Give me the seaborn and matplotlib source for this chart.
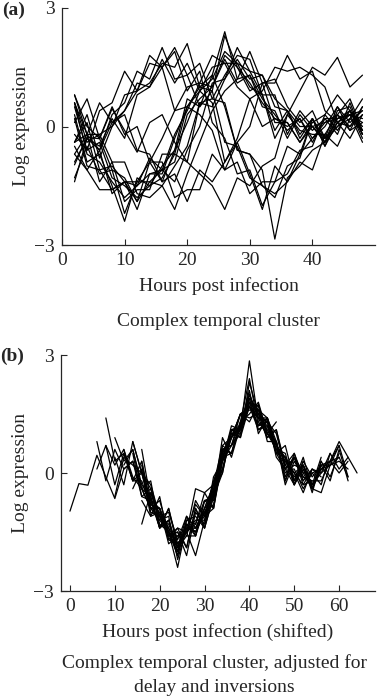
import numpy as np
import pandas as pd
import matplotlib
matplotlib.use('Agg')
import matplotlib.pyplot as plt
import seaborn as sns

# ============================================================
# DATA
# ============================================================

hours = [2, 4, 6, 8, 10, 12, 14, 16, 18, 20, 22, 24,
         26, 28, 30, 32, 34, 36, 38, 40, 42, 44, 46, 48]

# delay (hours) and inversion sign used for the adjusted panel
gene_delay = [-2, 4, 4, 6, 6, 8, 8, 8, 10, 10,
              12, 12, 12, 14, 14, 14, 14, 14, 14, 16]
gene_sign  = [1, 1, 1, -1, -1, -1, -1, -1, -1, 1,
              1, 1, 1, 1, 1, 1, 1, 1, 1, 1]

# expression profiles after adjustment (panel b orientation)
g01 = [-0.97, -0.27, -0.31, 0.45, -0.1, -0.65, 0.1, 0.3, -0.4, -0.9, -1.2, -1.5,
       -2.1, -1.3, -1.5, -1.0, -0.8, 0.3, 0.9, 1.5, 1.3, 1.75, 1.0, 1.3]
g02 = [0.8, -0.2, 0.6, 0.1, 0.3, -0.6, -0.7, -1.4, -1.2, -1.9, -1.1, -1.4,
       -0.9, -0.3, 0.7, 0.9, 1.5, 1.4, 1.5, 1.3, 1.0, 0.1, 0.4, -0.2]
g03 = [0.1, 0.7, -0.3, 0.5, -0.2, 0.0, -0.9, -0.9, -1.8, -1.6, -1.6, -0.7,
       -1.1, -0.4, 0.0, 1.1, 1.1, 1.8, 1.2, 1.4, 0.4, 0.1, -0.3, 0.3]
g04 = [0.7, 0.2, 0.6, -0.1, -0.4, -0.9, -1.1, -1.6, -1.5, -2.1, -1.0, -1.3,
       -0.5, 0.6, 0.7, 1.1, 2.85, 1.3, 1.0, 0.6, 0.4, 0.0, -0.3, -0.2]
g05 = [1.4, 0.3, 0.5, -0.2, 0.3, -0.8, -1.0, -1.5, -2.0, -1.3, -1.6, -0.7,
       -0.6, 0.6, 0.7, 1.5, 1.7, 1.4, 0.9, 1.1, 0.2, 0.5, -0.2, 0.1]
g06 = [-0.6, 0.4, 0.2, 0.0, -0.8, -0.9, -1.6, -1.5, -1.9, -0.9, -1.4, -0.1,
       0.3, 1.2, 1.1, 2.0, 1.4, 1.2, 0.6, 0.5, -0.3, 0.1, -0.4, 0.3]
g07 = [0.9, 0.3, 0.6, -0.3, -0.6, -1.4, -1.2, -2.0, -1.2, -1.3, -0.5, -0.9,
       0.4, 0.5, 1.3, 1.5, 1.8, 1.0, 0.8, -0.2, 0.5, -0.1, -0.3, 0.4]
g08 = [0.4, -0.3, 0.8, 0.0, -0.4, -1.1, -1.0, -1.7, -1.1, -1.6, -0.9, -0.6,
       0.9, 0.4, 1.2, 2.1, 1.0, 1.4, 0.7, 0.3, 0.0, -0.5, 0.1, -0.1]
g09 = [0.2, 0.6, -0.4, -0.6, -1.4, -0.9, -1.8, -1.5, -0.4, -0.5, -0.3, 0.1,
       1.1, 0.9, 1.7, 1.4, 1.4, 0.5, 0.7, -0.2, 0.4, -0.4, -0.5, 0.2]
g10 = [0.6, -0.2, -0.2, -0.9, -0.9, -1.7, -1.8, -1.5, -2.1, -1.2, -0.4, 0.4,
       0.9, 1.2, 1.9, 1.1, 1.2, 0.5, 0.1, 0.4, -0.3, 0.1, 0.0, 0.5]
g11 = [0.8, 0.0, -0.3, -1.1, -1.3, -1.9, -1.4, -1.5, -1.0, -0.5, 0.6, 0.7,
       1.3, 1.8, 1.7, 0.8, 0.8, -0.2, 0.4, 0.0, -0.4, 0.2, 0.3, 0.4]
g12 = [-0.4, 0.1, -1.1, -1.0, -1.4, -2.1, -1.2, -1.1, -1.4, -0.6, 0.0, 1.1,
       1.2, 1.7, 1.2, 1.3, 0.7, 0.4, -0.3, 0.2, -0.5, 0.3, -0.1, 0.5]
g13 = [0.5, -0.6, -0.4, -1.3, -1.5, -1.8, -1.5, -1.3, -0.7, -0.9, 0.6, 0.5,
       1.2, 2.0, 1.4, 1.3, 0.5, 0.4, -0.2, 0.2, -0.3, 0.0, 0.2, 0.7]
g14 = [0.6, -0.7, -0.9, -1.4, -1.8, -1.5, -1.2, -1.2, -0.3, 0.5, 1.0, 0.9,
       2.3, 1.5, 1.1, 0.6, 0.2, 0.0, 0.2, -0.4, 0.2, 0.2, 0.4, -0.1]
g15 = [-0.7, -1.1, -0.6, -1.7, -1.4, -1.9, -0.9, -1.4, -0.6, 0.1, 0.9, 1.2,
       1.9, 1.6, 1.4, 0.8, -0.1, 0.4, 0.0, 0.0, -0.3, 0.5, 0.1, 0.4]
g16 = [0.2, -1.0, -1.1, -1.6, -1.4, -1.5, -0.8, -1.1, -0.2, 0.4, 1.1, 1.0,
       1.7, 1.1, 1.3, 0.5, 0.4, -0.3, 0.3, -0.1, 0.2, -0.2, 0.6, -0.2]
g17 = [-1.3, -0.5, -1.2, -1.1, -2.2, -1.4, -1.4, -1.1, -0.9, 0.3, 0.7, 1.0,
       1.8, 1.5, 0.9, 1.1, 0.1, 0.1, -0.4, 0.0, 0.1, 0.3, 0.0, 0.3]
g18 = [-0.4, -0.2, -1.4, -0.9, -1.9, -1.6, -1.6, -0.7, -0.7, 0.5, 0.9, 1.5,
       1.6, 1.6, 1.0, 0.8, -0.3, 0.3, -0.1, -0.2, -0.2, 0.3, 0.7, -0.1]
g19 = [0.3, -0.9, -0.7, -1.5, -2.4, -1.3, -1.5, -1.0, -0.6, 0.7, 0.5, 1.3,
       2.4, 1.2, 1.3, 0.7, 0.3, -0.1, 0.2, -0.3, 0.1, 0.2, 0.3, 0.1]
g20 = [-0.5, -1.1, -1.6, -1.6, -1.4, -1.4, -0.9, -0.3, 0.4, 1.0, 1.1, 1.8,
       1.6, 1.0, 0.7, 0.0, 0.2, 0.1, -0.4, 0.1, 0.3, 0.8, 0.4, 0.0]

profiles = [g01, g02, g03, g04, g05, g06, g07, g08, g09, g10,
            g11, g12, g13, g14, g15, g16, g17, g18, g19, g20]

# ============================================================
# LONG TABLE
# ============================================================

rows = []
for i, (vals, d, s) in enumerate(zip(profiles, gene_delay, gene_sign)):
    for h, v in zip(hours, vals):
        rows.append({'gene': i, 'hours': h, 'shifted': h + d,
                     'raw': s * v, 'adjusted': v})
df = pd.DataFrame(rows)

# ============================================================
# PLOT
# ============================================================

sns.set_style('ticks')
plt.rcParams['font.family'] = ['Liberation Serif', 'DejaVu Serif']
plt.rcParams['axes.unicode_minus'] = True

FS = 14
fig = plt.figure(figsize=(3.84, 7.0), dpi=100)

ax_a = fig.add_axes([62 / 384, 1 - 245 / 700, 313 / 384, 237 / 700])
ax_b = fig.add_axes([61 / 384, 1 - 591 / 700, 314 / 384, 236 / 700])

sns.lineplot(data=df, x='hours', y='raw', units='gene', estimator=None,
             color='black', lw=0.9, ax=ax_a, legend=False)
sns.lineplot(data=df, x='shifted', y='adjusted', units='gene', estimator=None,
             color='black', lw=0.9, ax=ax_b, legend=False)

ax_a.set_xlim(0, 50)
ax_a.set_xticks([0, 10, 20, 30, 40])
ax_b.set_xlim(-2, 68)
ax_b.set_xticks([0, 10, 20, 30, 40, 50, 60])

for ax, xl in [(ax_a, 'Hours post infection'),
               (ax_b, 'Hours post infection (shifted)')]:
    ax.set_ylim(-3, 3)
    ax.set_yticks([-3, 0, 3])
    ax.tick_params(direction='in', length=4, width=0.8, labelsize=FS, pad=5)
    ax.set_xlabel(xl, fontsize=FS, labelpad=6)
    ax.set_ylabel('Log expression', fontsize=FS, labelpad=3)
    sns.despine(ax=ax)
    for sp in ax.spines.values():
        sp.set_linewidth(0.9)

fig.text(2 / 384, 1 - 10 / 700, '(a)', fontsize=FS, fontweight='bold',
         ha='left', va='center')
fig.text(0, 1 - 356 / 700, '(b)', fontsize=FS, fontweight='bold',
         ha='left', va='center')

fig.text(218 / 384, 1 - 321 / 700, 'Complex temporal cluster',
         fontsize=FS, ha='center', va='center')
fig.text(214 / 384, 1 - 663 / 700, 'Complex temporal cluster, adjusted for',
         fontsize=FS, ha='center', va='center')
fig.text(214 / 384, 1 - 688 / 700, 'delay and inversions',
         fontsize=FS, ha='center', va='center')

plt.savefig('out.png', dpi=100)
plt.close()
